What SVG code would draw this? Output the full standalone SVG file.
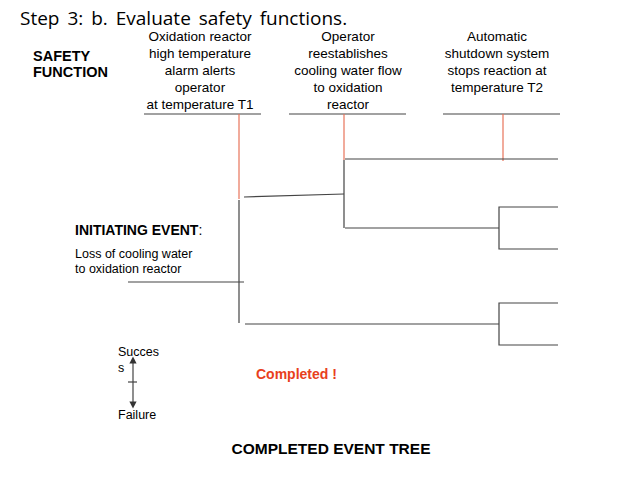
<svg xmlns="http://www.w3.org/2000/svg" width="638" height="478" viewBox="0 0 638 478">
<style>
text{font-family:"Liberation Sans",Arial,sans-serif;font-size:13.5px;fill:#000}
.h{text-anchor:middle}
.b{font-weight:bold}
line,polyline{stroke:#444;stroke-width:1.2;fill:none}
.r{stroke:#e8735a}
</style>
<defs><marker id="a" markerWidth="6" markerHeight="6" refX="3" refY="3" orient="auto"><path d="M0,0 L6,3 L0,6z" fill="#333"/></marker></defs>
<rect width="638" height="478" fill="#fff"/>
<text x="20" y="25" style="font-family:'Open Sans','Liberation Sans',sans-serif;font-size:19px;word-spacing:3px">Step 3:  b.  Evaluate safety functions.</text>
<text x="33" y="61" class="b" style="font-size:14.5px">SAFETY</text>
<text x="33" y="77" class="b" style="font-size:14.5px">FUNCTION</text>
<g id="n1"><text class="h" x="200" y="41">Oxidation reactor</text><text class="h" x="200" y="58">high temperature</text><text class="h" x="200" y="75">alarm alerts</text><text class="h" x="200" y="92">operator</text><text class="h" x="200" y="109">at temperature T1</text></g>
<g id="n2"><text class="h" x="348" y="41">Operator</text><text class="h" x="348" y="58">reestablishes</text><text class="h" x="348" y="75">cooling water flow</text><text class="h" x="348" y="92">to oxidation</text><text class="h" x="348" y="109">reactor</text></g>
<g id="n3"><text class="h" x="497" y="41">Automatic</text><text class="h" x="497" y="58">shutdown system</text><text class="h" x="497" y="75">stops reaction at</text><text class="h" x="497" y="92">temperature T2</text></g>
<g id="ie"><text x="75" y="235" class="b" style="font-size:14px">INITIATING EVENT<tspan font-weight="normal">:</tspan></text><text x="75" y="258" style="font-size:12.5px">Loss of cooling water</text><text x="75" y="273" style="font-size:12.5px">to oxidation reactor</text></g>
<g id="legend"><text x="118" y="356" style="font-size:12.5px">Succes</text><text x="118" y="372" style="font-size:12.5px">s</text><text x="118" y="419" style="font-size:12.5px">Failure</text></g>
<text x="256" y="379" class="b" style="fill:#e8401c;font-size:14px">Completed !</text>
<text x="331" y="454" class="h b" style="font-size:15.5px">COMPLETED EVENT TREE</text>
<g id="connectors">
<line x1="144" y1="114" x2="261" y2="114"/><line x1="289" y1="114" x2="406" y2="114"/><line x1="443" y1="114" x2="560" y2="114"/>
<line class="r" x1="239" y1="114" x2="239" y2="199"/><line class="r" x1="344" y1="114" x2="344" y2="160"/><line class="r" x1="503" y1="114" x2="503" y2="161"/>
<line x1="239" y1="200" x2="239" y2="323"/>
<line x1="244" y1="197" x2="344" y2="194"/>
<line x1="344" y1="160" x2="344" y2="228"/>
<line x1="345" y1="159" x2="558" y2="159"/>
<line x1="345" y1="228" x2="499" y2="228"/>
<polyline points="558,207 499,207 499,249 558,249"/>
<line x1="128" y1="282" x2="244" y2="282"/>
<line x1="245" y1="324" x2="499" y2="324"/>
<polyline points="558,303 499,303 499,345 558,345"/>
<line x1="133" y1="382" x2="133" y2="360" marker-end="url(#a)"/>
<line x1="133" y1="382" x2="133" y2="405" marker-end="url(#a)"/>
<line x1="128" y1="382" x2="137" y2="382"/>
</g>
</svg>
